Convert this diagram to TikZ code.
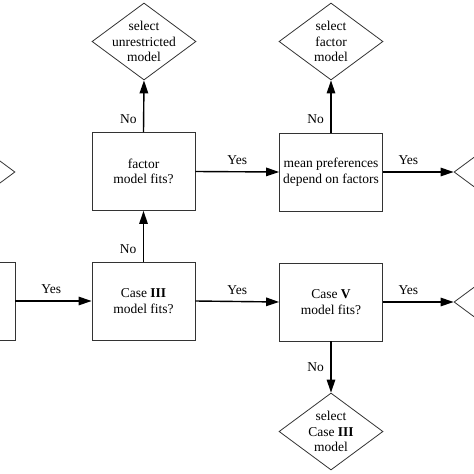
\documentclass[tikz,border=0pt]{standalone}
\usepackage{fontspec}
\setmainfont{Liberation Serif}
\usetikzlibrary{arrows.meta,shapes.geometric}
\begin{document}
\begin{tikzpicture}[x=1pt,y=-1pt,
 box/.style={draw=black!80, line width=0.8pt, minimum width=103pt, minimum height=78pt, inner sep=0pt, align=center, font=\fontsize{13.5}{15.5}\selectfont},
 dia/.style={draw=black!80, line width=0.8pt, diamond, minimum width=104pt, minimum height=77pt, inner sep=0pt},
 txt/.style={align=center, font=\fontsize{13.5}{15.5}\selectfont},
 lab/.style={font=\fontsize{13.5}{15.5}\selectfont},
 arr/.style={-{Triangle[length=13pt,width=8.5pt]}, line width=1.4pt}]
\useasboundingbox (0,0) rectangle (474,474);
\clip (0,0) rectangle (474,474);
% top diamonds
\node[dia] (d1) at (144,41.5) {};
\node[txt] at (d1) {select\\unrestricted\\model};
\node[dia] (d2) at (331,41.5) {};
\node[txt] at (d2) {select\\factor\\model};
% middle row
\node[dia] (ld) at (-37,172) {};
\node[box] (fm) at (143.5,171.5) {factor\\model fits?};
\node[box] (mp) at (331,172) {mean preferences\\depend on factors};
\node[dia] (rd1) at (506,172) {};
% bottom row
\node[box] (lb) at (-36.5,301) {};
\node[box] (c3) at (143.5,301) {Case \textbf{III}\\model fits?};
\node[box] (c5) at (331,302) {Case \textbf{V}\\model fits?};
\node[dia] (rd2) at (506,302) {};
% bottom diamond
\node[dia] (d3) at (331,431.5) {};
\node[txt] at (d3) {select\\Case \textbf{III}\\model};
% connectors
\draw[arr] (fm.north) -- (d1.south) node[lab, pos=0.25, left=3pt] {No};
\draw[arr] (mp.north) -- (d2.south) node[lab, pos=0.25, left=3pt] {No};
\draw[arr] (fm.east) -- (mp.west) node[lab, midway, above=3pt] {Yes};
\draw[arr] (mp.east) -- (rd1.west) node[lab, pos=0.36, above=3pt] {Yes};
\draw[arr] (lb.east) -- (c3.west) node[lab, pos=0.47, above=3pt] {Yes};
\draw[arr] (c3.north) -- (fm.south) node[lab, pos=0.25, left=3pt] {No};
\draw[arr] (c3.east) -- (c5.west) node[lab, midway, above=3pt] {Yes};
\draw[arr] (c5.east) -- (rd2.west) node[lab, pos=0.36, above=3pt] {Yes};
\draw[arr] (c5.south) -- (d3.north) node[lab, pos=0.5, left=3pt] {No};
\end{tikzpicture}
\end{document}
